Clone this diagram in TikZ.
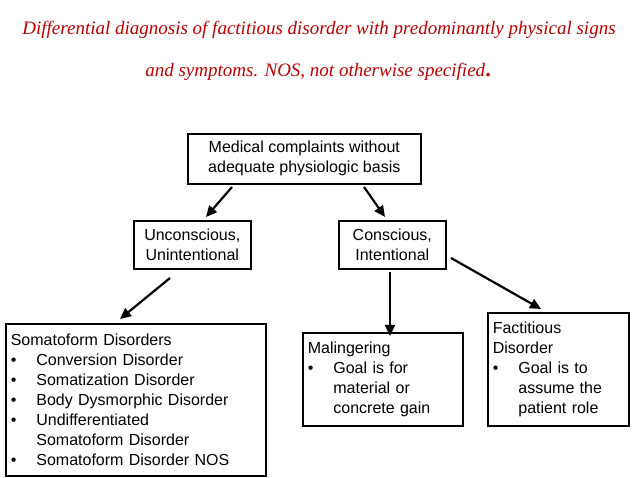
\documentclass[tikz,border=0pt]{standalone}
\usepackage{fontspec}
\setmainfont{Liberation Sans}
\newfontfamily\titlefont{Liberation Serif}
\usetikzlibrary{arrows.meta}
\newcommand{\itm}{\textbullet\hspace{20pt}}
\newcommand{\cnt}{\phantom{\textbullet}\hspace{20pt}}
\begin{document}
\begin{tikzpicture}[x=1pt,y=-1pt,
  box/.style={draw, line width=1.6pt, anchor=north west, inner xsep=5pt, inner ysep=5pt,
    font=\fontsize{16}{20}\selectfont, align=left},
  arr/.style={line width=2.2pt, -{Triangle[length=11pt,width=10pt]}}]
\useasboundingbox (0,0) rectangle (638,478);
\node[font=\titlefont\itshape\fontsize{19}{22}\selectfont, text=red!75!black] (t1) at (319,30)
  {Differential diagnosis of factitious disorder with predominantly physical signs};
\node[font=\titlefont\itshape\fontsize{19}{22}\selectfont, text=red!75!black] (t2) at (319,72)
  {and symptoms. NOS, not otherwise specified{\fontsize{30}{30}\selectfont.}};
\node[box, minimum width=233pt, minimum height=50pt, align=center] (top) at (187,133)
  {Medical complaints without\\adequate physiologic basis};
\node[box, minimum width=117pt, minimum height=48pt, align=center] (unc) at (133,220)
  {Unconscious,\\Unintentional};
\node[box, minimum width=107pt, minimum height=48pt, align=center] (con) at (338,220)
  {Conscious,\\Intentional};
\node[box, text width=250pt, minimum height=152pt] (som) at (5,323)
  {Somatoform Disorders\\
   \itm Conversion Disorder\\
   \itm Somatization Disorder\\
   \itm Body Dysmorphic Disorder\\
   \itm Undifferentiated\\
   \cnt Somatoform Disorder\\
   \itm Somatoform Disorder NOS};
\node[box, text width=150pt, minimum height=93pt] (mal) at (302,332)
  {Malingering\\
   \itm Goal is for\\
   \cnt material or\\
   \cnt concrete gain};
\node[box, text width=131pt, minimum height=113pt] (fac) at (487,312)
  {Factitious\\Disorder\\
   \itm Goal is to\\
   \cnt assume the\\
   \cnt patient role};
\coordinate (a1s) at (232,187); \coordinate (a1e) at (206,217);
\coordinate (a2s) at (364,187); \coordinate (a2e) at (385,217);
\coordinate (a3s) at (170,278); \coordinate (a3e) at (120,319);
\coordinate (a4s) at (390,272); \coordinate (a4e) at (390,336);
\coordinate (a5s) at (451,258); \coordinate (a5e) at (541,309);
\draw[arr] (a1s) -- (a1e);
\draw[arr] (a2s) -- (a2e);
\draw[arr] (a3s) -- (a3e);
\draw[arr] (a4s) -- (a4e);
\draw[arr] (a5s) -- (a5e);
\end{tikzpicture}
\end{document}
